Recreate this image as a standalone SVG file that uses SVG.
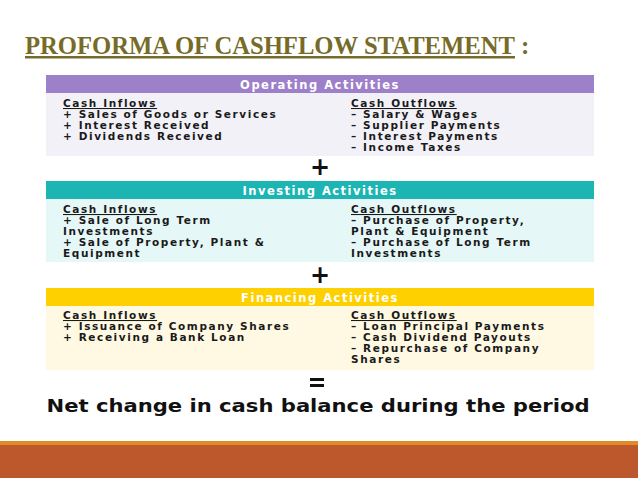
<svg xmlns="http://www.w3.org/2000/svg" width="638" height="478" viewBox="0 0 638 478">
<style>
.t{font-family:"DejaVu Sans",sans-serif;font-weight:bold;font-size:10.5px;letter-spacing:1.6px;fill:#1a1a1a}
.u{text-decoration:underline}
.h{font-family:"DejaVu Sans",sans-serif;font-weight:bold;font-size:11.5px;letter-spacing:1.5px;fill:#fff;text-anchor:middle}
.op{font-family:"DejaVu Sans",sans-serif;font-weight:bold;fill:#111;text-anchor:middle}
</style>
<rect width="638" height="478" fill="#fff"/>
<text x="25" y="54" font-family="Liberation Serif,serif" font-weight="bold" font-size="25" fill="#766B28" text-decoration="underline" textLength="490" lengthAdjust="spacingAndGlyphs">PROFORMA OF CASHFLOW STATEMENT</text>
<text x="521" y="54" font-family="Liberation Serif,serif" font-weight="bold" font-size="25" fill="#766B28">:</text>
<g id="operating">
<rect x="46" y="75" width="548" height="18" fill="#9E7FC9"/>
<rect x="46" y="93" width="548" height="63" fill="#F3F1F8"/>
<text class="h" x="320" y="88.5">Operating Activities</text>
<text class="t u" x="63" y="107">Cash Inflows</text>
<text class="t" x="63" y="118">+ Sales of Goods or Services</text>
<text class="t" x="63" y="129">+ Interest Received</text>
<text class="t" x="63" y="140">+ Dividends Received</text>
<text class="t u" x="351" y="107">Cash Outflows</text>
<text class="t" x="351" y="118">– Salary &amp; Wages</text>
<text class="t" x="351" y="129">– Supplier Payments</text>
<text class="t" x="351" y="140">– Interest Payments</text>
<text class="t" x="351" y="151">– Income Taxes</text>
</g>
<text class="op" x="320" y="175" font-size="24">+</text>
<g id="investing">
<rect x="46" y="181" width="548" height="18" fill="#1DB5B3"/>
<rect x="46" y="199" width="548" height="63" fill="#E6F7F7"/>
<text class="h" x="320" y="194.5">Investing Activities</text>
<text class="t u" x="63" y="213">Cash Inflows</text>
<text class="t" x="63" y="224">+ Sale of Long Term</text>
<text class="t" x="63" y="235">Investments</text>
<text class="t" x="63" y="246">+ Sale of Property, Plant &amp;</text>
<text class="t" x="63" y="257">Equipment</text>
<text class="t u" x="351" y="213">Cash Outflows</text>
<text class="t" x="351" y="224">– Purchase of Property,</text>
<text class="t" x="351" y="235">Plant &amp; Equipment</text>
<text class="t" x="351" y="246">– Purchase of Long Term</text>
<text class="t" x="351" y="257">Investments</text>
</g>
<text class="op" x="320" y="283" font-size="24">+</text>
<g id="financing">
<rect x="46" y="288" width="548" height="18" fill="#FFD000"/>
<rect x="46" y="306" width="548" height="64" fill="#FFF9E3"/>
<text class="h" x="320" y="301.5">Financing Activities</text>
<text class="t u" x="63" y="319">Cash Inflows</text>
<text class="t" x="63" y="330">+ Issuance of Company Shares</text>
<text class="t" x="63" y="341">+ Receiving a Bank Loan</text>
<text class="t u" x="351" y="319">Cash Outflows</text>
<text class="t" x="351" y="330">– Loan Principal Payments</text>
<text class="t" x="351" y="341">– Cash Dividend Payouts</text>
<text class="t" x="351" y="352">– Repurchase of Company</text>
<text class="t" x="351" y="363">Shares</text>
</g>
<rect x="310" y="378" width="14" height="3" fill="#111"/>
<rect x="310" y="384" width="14" height="3" fill="#111"/>
<text x="318" y="412" font-family="DejaVu Sans,sans-serif" font-weight="bold" font-size="18" fill="#111" text-anchor="middle" textLength="543" lengthAdjust="spacingAndGlyphs">Net change in cash balance during the period</text>
<rect x="0" y="441" width="638" height="4" fill="#E08A2A"/>
<rect x="0" y="445" width="638" height="33" fill="#BD582C"/>
</svg>
